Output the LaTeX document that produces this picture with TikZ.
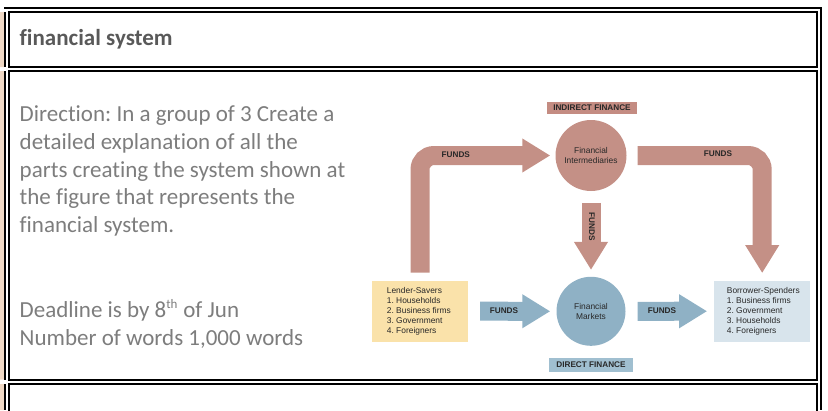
\documentclass[tikz,border=0pt]{standalone}
\usepackage{fontspec}
\setmainfont{Carlito}[Ligatures=NoCommon]
\newfontfamily\arialf{Liberation Sans}
\usetikzlibrary{arrows.meta}
\frenchspacing
\definecolor{pinkb}{RGB}{196,144,134}
\definecolor{pinklab}{RGB}{196,140,130}
\definecolor{blueb}{RGB}{143,177,197}
\definecolor{bluelab}{RGB}{160,191,208}
\definecolor{lendbg}{RGB}{250,226,170}
\definecolor{borrbg}{RGB}{216,228,236}
\definecolor{beigecol}{RGB}{238,215,195}
\definecolor{titlegray}{RGB}{89,89,89}
\definecolor{bodygray}{RGB}{125,125,125}
\definecolor{darktxt}{RGB}{40,40,40}
\tikzset{
  tline/.style={line width=2pt, black},
  fundarrow/.style={line width=19pt, -{Triangle[length=28pt,width=32pt]}},
  fundlabel/.style={font=\arialf\bfseries\fontsize{8.2}{10}\selectfont, text=darktxt, inner sep=0pt},
  finlabel/.style={font=\arialf\bfseries\fontsize{8.2}{10}\selectfont, text=darktxt, inner sep=0pt},
  circ/.style={circle, inner sep=0pt, align=center, font=\arialf\fontsize{8.4}{10}\selectfont, text=darktxt},
  listbox/.style={rectangle, inner sep=0pt},
  listtext/.style={anchor=base west, inner sep=0pt, font=\arialf\fontsize{8.4}{10.1}\selectfont, text=darktxt},
  bodytext/.style={anchor=base west, inner sep=0pt, font=\fontsize{23}{27.7}\selectfont, text=bodygray},
}
\begin{document}
\begin{tikzpicture}[x=1pt,y=-1pt]
\useasboundingbox (0,0) rectangle (828,410);
% table frame
\fill[beigecol] (0,12) rectangle (4,67) (0,71) rectangle (4,379.5) (0,384) rectangle (4,410);
\draw[tline] (5,12)--(5,67) (5,71)--(5,379.5) (5,384)--(5,410);
\draw[tline] (4,8) -- (820.7,8) -- (820.7,410);
\draw[tline] (8.8,12) rectangle (816.5,67);
\draw[tline] (8.8,71) rectangle (816.5,379.5);
\draw[tline] (8.8,412) -- (8.8,384) -- (816.5,384) -- (816.5,412);
% title
\node[anchor=base west, inner sep=0pt, font=\bfseries\fontsize{23}{27.7}\selectfont, text=titlegray] (title) at (19.5,45) {financial system};
% body text
\node[bodytext] (direction) at (19.5,121.7) {\begin{tabular}[t]{@{}l@{}}Direction: In a group of 3 Create a\\detailed explanation of all the\\parts creating the system shown at\\the figure that represents the\\financial system.\end{tabular}};
\node[bodytext] (deadline) at (19.5,317.7) {\begin{tabular}[t]{@{}l@{}}Deadline is by 8\textsuperscript{\fontsize{13}{13}\selectfont th} of Jun\\Number of words 1,000 words\end{tabular}};
% diagram nodes
\node[circ, fill=pinkb, minimum size=71pt] (fi) at (591,155.5) {Financial\\Intermediaries};
\node[circ, fill=blueb, minimum size=69pt] (fm) at (591,311.3) {Financial\\Markets};
\node[finlabel, fill=pinklab, minimum width=90pt, minimum height=12.5pt] (indirect) at (592,107.8) {INDIRECT FINANCE};
\node[finlabel, fill=bluelab, minimum width=84pt, minimum height=14pt] (direct) at (591,364.8) {DIRECT FINANCE};
\node[listbox, fill=lendbg, minimum width=95.4pt, minimum height=61pt] (lender) at (420,311.2) {};
\node[listbox, fill=borrbg, minimum width=95.7pt, minimum height=61pt] (borr) at (762.2,311.2) {};
\node[listtext] (lendertxt) at (386.7,293.3) {\begin{tabular}[t]{@{}l@{}}Lender-Savers\\1. Households\\2. Business firms\\3. Government\\4. Foreigners\end{tabular}};
\node[listtext] (borrtxt) at (726.7,293.3) {\begin{tabular}[t]{@{}l@{}}Borrower-Spenders\\1. Business firms\\2. Government\\3. Households\\4. Foreigners\end{tabular}};
% arrows
\draw[fundarrow, draw=pinkb, rounded corners=14pt, shorten <=8pt, shorten >=5pt] (lender.north) |- (fi.west);
\draw[fundarrow, draw=pinkb, rounded corners=14pt, shorten <=11pt, shorten >=7.4pt] (fi.east) -| (borr.north);
\draw[fundarrow, draw=pinkb, shorten <=11.6pt, shorten >=6.7pt] (fi.south) -- (fm.north);
\draw[fundarrow, draw=blueb, shorten <=12.3pt, shorten >=6pt] (lender.east) -- (fm.west);
\draw[fundarrow, draw=blueb, shorten <=12pt, shorten >=7pt] (fm.east) -- (borr.west);
% arrow labels
\node[fundlabel] (f1) at (455.8,155) {FUNDS};
\node[fundlabel] (f2) at (718,154) {FUNDS};
\node[fundlabel, rotate=-90] (f3) at (592,227) {FUNDS};
\node[fundlabel] (f4) at (504,311) {FUNDS};
\node[fundlabel] (f5) at (662,311) {FUNDS};
\end{tikzpicture}
\end{document}
